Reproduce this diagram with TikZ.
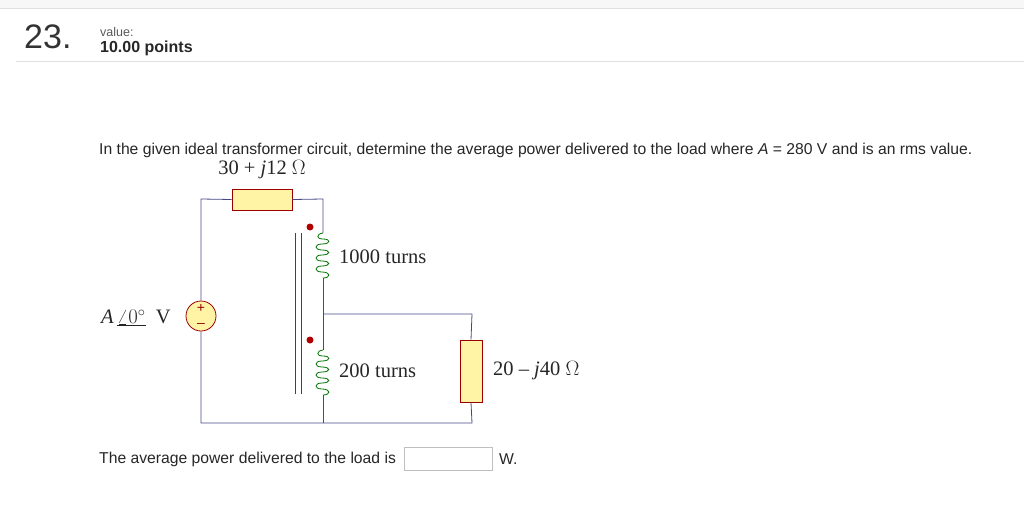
\documentclass[tikz,border=0pt]{standalone}
\usepackage{fontspec}
\setsansfont{Liberation Sans}
\setmainfont{Liberation Serif}
\begin{document}
\begin{tikzpicture}[x=1pt,y=-1pt,
  wire/.style={draw=blue!30!gray!80!black,line width=0.8pt},
  res/.style={draw=red!60!black,fill=orange!25!yellow!35,line width=0.8pt},
  coil/.style={draw=green!45!black,line width=0.8pt},
  lbl/.style={font=\rmfamily\fontsize{20.5}{22}\selectfont,text=black!85,inner sep=0pt},
  txt/.style={font=\sffamily\fontsize{15.7}{18}\selectfont,text=black!85,inner sep=0pt,anchor=west}]
\useasboundingbox (0,0) rectangle (1024,508);
\fill[black!3] (0,0) rectangle (1024,8);
\draw[black!12] (0,8.5) -- (1024,8.5);
\draw[black!12] (16,61.5) -- (1024,61.5);
\node[font=\sffamily\fontsize{34}{36}\selectfont,text=black!80,anchor=west,inner sep=0pt] (num) at (24,37) {23.};
\node[font=\sffamily\fontsize{12.5}{14}\selectfont,text=black!65,anchor=west,inner sep=0pt] (val) at (100,32) {value:};
\node[font=\sffamily\bfseries\fontsize{16}{18}\selectfont,text=black!85,anchor=west,inner sep=0pt] (pts) at (100,48) {10.00 points};
\node[txt] (q) at (99,150) {In the given ideal transformer circuit, determine the average power delivered to the load where \textit{A} = 280 V and is an rms value.};
% circuit
\coordinate (tl) at (201,199); \coordinate (tr) at (323,199);
\coordinate (bl) at (201,423); \coordinate (br) at (323,423);
\coordinate (mr) at (472,314); \coordinate (mm) at (323,314);
\coordinate (brr) at (472,423);
\node[res,minimum width=60pt,minimum height=21pt,inner sep=0pt] (R1) at (262,199.5) {};
\node[res,minimum width=22pt,minimum height=62pt,inner sep=0pt] (R2) at (471,371) {};
\node[circle,draw=red!60!black,fill=orange!25!yellow!35,line width=0.8pt,minimum size=30pt,inner sep=0pt] (src) at (201,316) {};
\node[font=\sffamily\fontsize{14}{14}\selectfont,text=red!60!black,inner sep=0pt] (pl) at (201,308) {+};
\node[font=\sffamily\fontsize{14}{14}\selectfont,text=red!60!black,inner sep=0pt] (mi) at (201,325) {--};
\draw[wire] (src.north) -- (tl) -- (R1.west);
\draw[wire] (R1.east) -- (tr) -- (323,233);
\draw[wire] (323,278) -- (323,350);
\draw[wire] (mm) -- (mr) -- (R2.north);
\draw[wire] (R2.south) -- (brr) -- (br) -- (bl) -- (src.south);
\draw[wire] (323,395) -- (br);
% coils
\foreach \y in {233,350}{
  \draw[coil] (323,\y) .. controls (316,\y+1) and (316,\y+6) .. (323,\y+6)
    .. controls (331,\y+6) and (331,\y+11) .. (322,\y+11)
    .. controls (314,\y+11) and (314,\y+17) .. (322,\y+17)
    .. controls (331,\y+17) and (331,\y+22) .. (322,\y+22)
    .. controls (314,\y+22) and (314,\y+28) .. (322,\y+28)
    .. controls (331,\y+28) and (331,\y+33) .. (322,\y+33)
    .. controls (314,\y+33) and (314,\y+39) .. (322,\y+39)
    .. controls (331,\y+39) and (331,\y+45) .. (323,\y+45);
}
\draw[coil] (295,233) -- (295,394);
\draw[coil] (301,233) -- (301,394);
\fill[red!70!black] (310,227) circle (3.5);
\fill[red!70!black] (310,340) circle (3.5);
\node[lbl] (l1) at (262,170) {30 + \textit{j}12 $\Omega$};
\node[lbl,anchor=west] (t1) at (339,257) {1000 turns};
\node[lbl,anchor=west] (t2) at (339,371) {200 turns};
\node[lbl,anchor=west] (l2) at (493,371) {20 -- \textit{j}40 $\Omega$};
\node[lbl,anchor=west] (l3) at (101,318) {\textit{A}\,$\underline{\angle 0^\circ}$\ \ V};
\node[txt] (ans) at (99,459) {The average power delivered to the load is};
\node[draw=black!25,minimum width=88pt,minimum height=23pt,inner sep=0pt] (box) at (448,458.5) {};
\node[txt] (w) at (499,459) {W.};
\end{tikzpicture}
\end{document}
